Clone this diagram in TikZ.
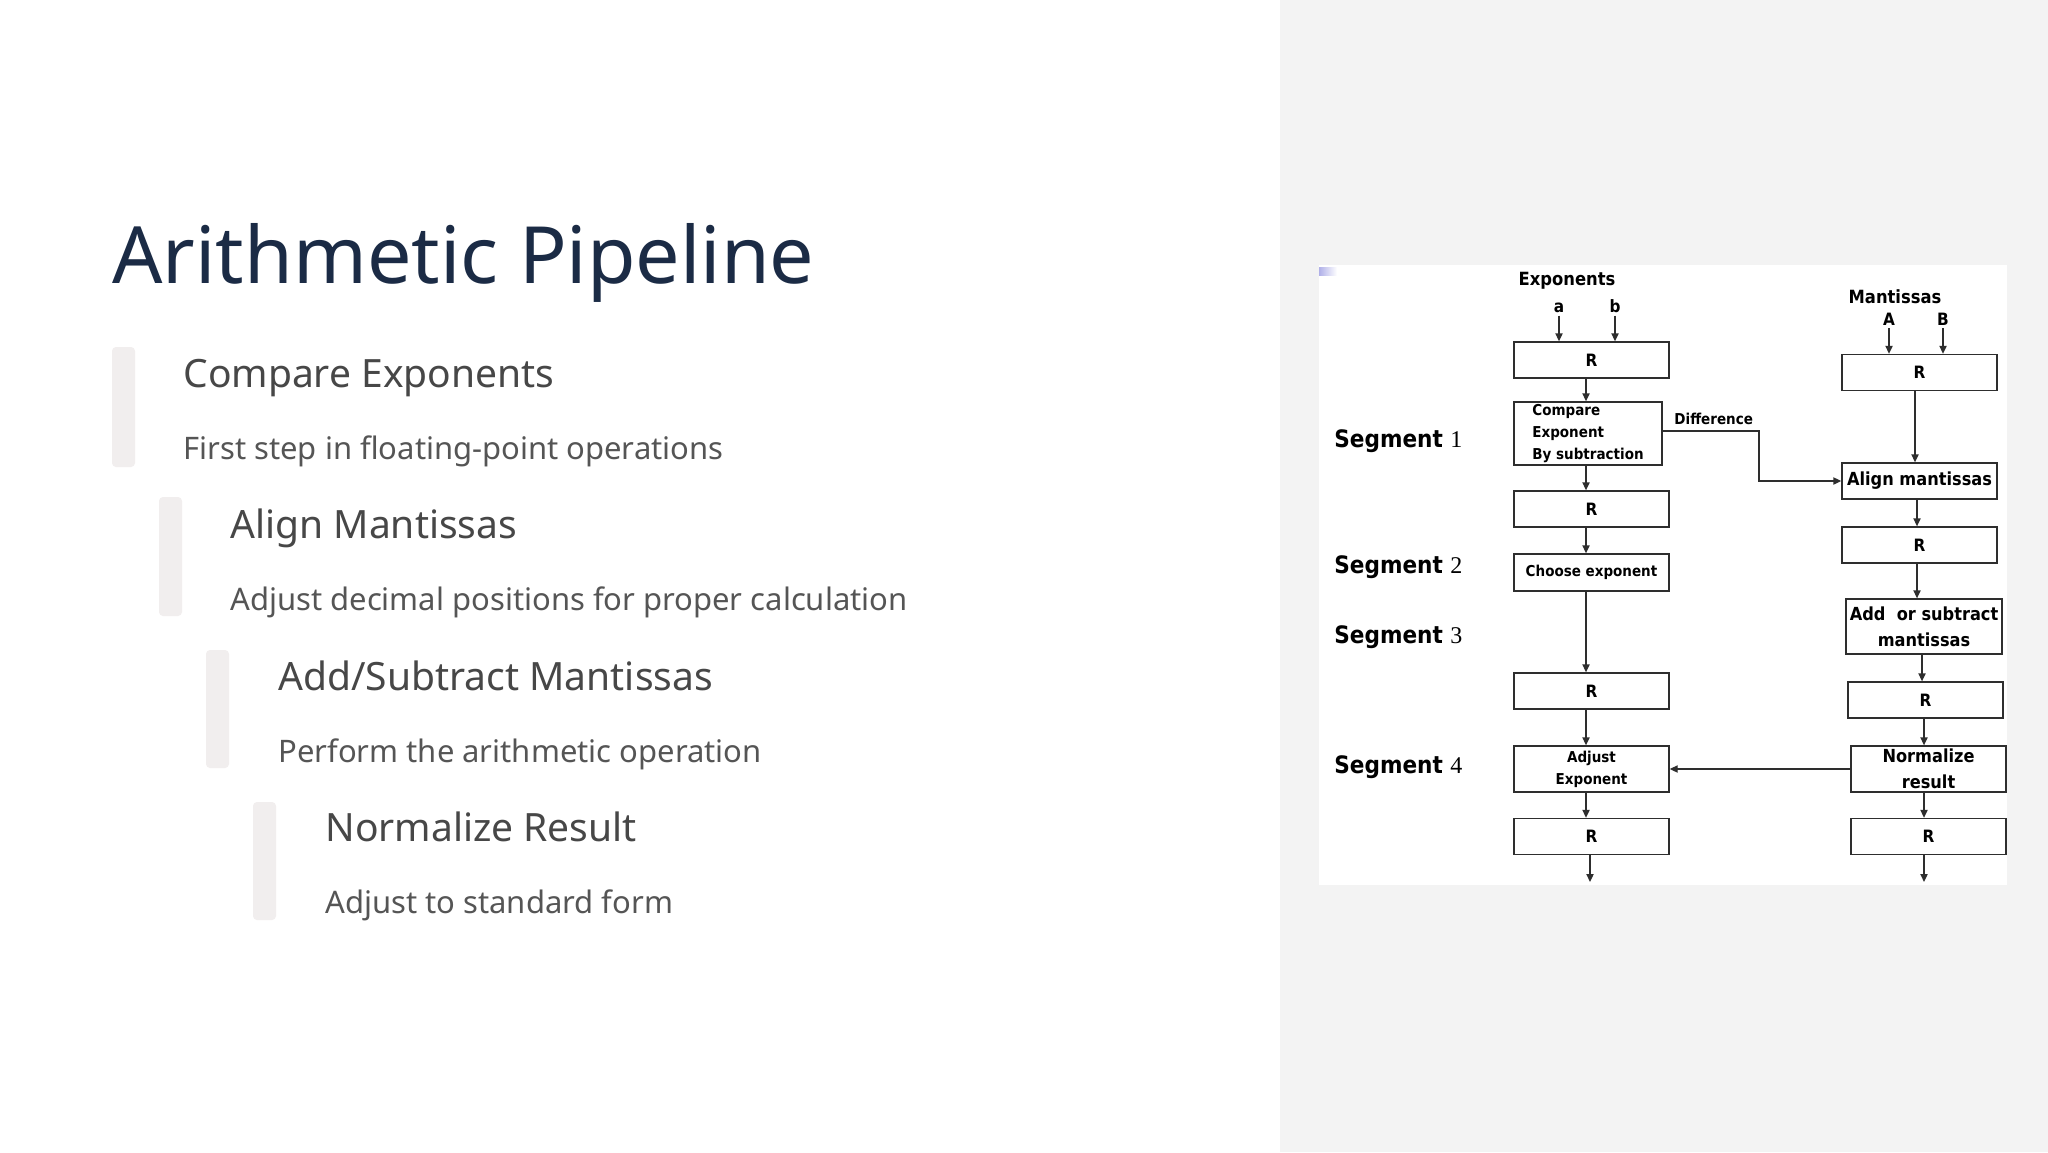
\documentclass[tikz,border=0pt]{standalone}
\usepackage{fontspec}
\setmainfont{Noto Sans}
\newfontfamily\diagfont{DejaVu Sans}[FakeStretch=0.9]
\newfontfamily\digitfont{Liberation Serif}
\usetikzlibrary{arrows.meta}
\definecolor{titleblue}{HTML}{1B2B45}
\definecolor{headgray}{HTML}{474747}
\definecolor{subgray}{HTML}{555555}
\definecolor{barfill}{HTML}{F1EEEE}
\definecolor{panelgray}{HTML}{F3F3F3}
\definecolor{boxline}{HTML}{2E2E2E}
\begin{document}
\begin{tikzpicture}[x=0.5pt,y=0.5pt,yscale=-1,xscale=1,
    regbox/.style={draw=boxline,line width=0.7pt,inner sep=0pt,minimum width=77.5pt,minimum height=18pt,font=\diagfont\bfseries\fontsize{8.5}{10}\selectfont},
    opbox/.style={draw=boxline,line width=0.7pt,inner sep=0pt,minimum width=77.5pt,align=center,font=\diagfont\bfseries\fontsize{7.5}{11}\selectfont},
    opboxbig/.style={opbox,font=\diagfont\bfseries\fontsize{9}{13}\selectfont},
    inlbl/.style={anchor=base,inner sep=0pt,font=\diagfont\bfseries\fontsize{8.5}{10}\selectfont},
    seglbl/.style={anchor=base west,inner sep=0pt,font=\diagfont\bfseries\fontsize{12}{14}\selectfont},
    arr/.style={draw=boxline,line width=0.7pt,-{Triangle[length=4pt,width=3.6pt]}},
    headtxt/.style={anchor=base west,inner sep=0pt,text=headgray,font=\fontsize{19.5}{23}\selectfont},
    subtxt/.style={anchor=base west,inner sep=0pt,text=subgray,font=\fontsize{15.5}{18}\selectfont},
    bar/.style={fill=barfill,rounded corners=2pt}]
    \useasboundingbox (0,0) rectangle (2048,1152);
    % backgrounds
    \fill[white] (0,0) rectangle (1280,1152);
    \fill[panelgray] (1280,0) rectangle (2048,1152);
    \fill[white] (1319,265) rectangle (2007,885);
    \shade[left color={rgb,255:red,176;green,176;blue,232},right color=white] (1319,267) rectangle (1337,275);

    % title and steps
    \draw (112,283) node (ttl) [anchor=base west,inner sep=0pt,text=titleblue,font=\fontsize{39.5}{48}\selectfont] {Arithmetic Pipeline};
    \fill[bar] (112,347) rectangle (135,467);
    \draw (183,387) node (h1) [headtxt] {Compare Exponents};
    \draw (183,459) node (s1) [subtxt] {First step in floating-point operations};
    \fill[bar] (159,497) rectangle (182,616);
    \draw (230,538) node (h2) [headtxt] {Align Mantissas};
    \draw (230,610) node (s2) [subtxt] {Adjust decimal positions for proper calculation};
    \fill[bar] (206,650) rectangle (229,768);
    \draw (278,690) node (h3) [headtxt] {Add/Subtract Mantissas};
    \draw (278,762) node (s3) [subtxt] {Perform the arithmetic operation};
    \fill[bar] (253,802) rectangle (276,920);
    \draw (325,841) node (h4) [headtxt] {Normalize Result};
    \draw (325,913) node (s4) [subtxt] {Adjust to standard form};

    % segment labels
    \draw (1334,447) node (seg1) [seglbl] {Segment {\digitfont\mdseries 1}};
    \draw (1334,573) node (seg2) [seglbl] {Segment {\digitfont\mdseries 2}};
    \draw (1334,643) node (seg3) [seglbl] {Segment {\digitfont\mdseries 3}};
    \draw (1334,773) node (seg4) [seglbl] {Segment {\digitfont\mdseries 4}};

    % exponent column
    \draw (1567,285) node (expo) [inlbl,font=\diagfont\bfseries\fontsize{9.1}{10}\selectfont] {Exponents};
    \draw (1559,312) node (ea) [inlbl] {a};
    \draw (1615,312) node (eb) [inlbl] {b};
    \draw (1591.5,360) node (rA) [regbox] {R};
    \draw (1588,433.5) node (cmp) [opbox,align=left,minimum width=74pt,minimum height=31.5pt] {Compare\\Exponent\\By subtraction};
    \draw (1591.5,509) node (rB) [regbox] {R};
    \draw (1591.5,572.5) node (choose) [opbox,minimum height=18.5pt] {Choose exponent};
    \draw (1591.5,691) node (rC) [regbox] {R};
    \draw (1591.5,769) node (adj) [opbox,minimum height=23pt] {Adjust\\Exponent};
    \draw (1591.5,836.5) node (rD) [regbox] {R};
    \coordinate (xe) at (1586,0);
    \coordinate (outE) at (1590,882);

    % mantissa column
    \draw (1895,303) node (mant) [inlbl,font=\diagfont\bfseries\fontsize{9.1}{10}\selectfont] {Mantissas};
    \draw (1889,325) node (mA) [inlbl] {A};
    \draw (1943,325) node (mB) [inlbl] {B};
    \draw (1919.5,372.5) node (rM1) [regbox] {R};
    \draw (1919.5,481) node (align) [opboxbig,minimum height=18pt] {Align mantissas};
    \draw (1919.5,545) node (rM2) [regbox] {R};
    \draw (1924,626.5) node (addsub) [opboxbig,minimum width=78pt,minimum height=27.5pt] {Add~ or subtract\\mantissas};
    \draw (1925.5,700) node (rM3) [regbox] {R};
    \draw (1928.5,769) node (norm) [opboxbig,minimum height=23pt] {Normalize\\result};
    \draw (1928.5,836.5) node (rM4) [regbox] {R};
    \coordinate (xm1) at (1915,0);
    \coordinate (xm2) at (1917,0);
    \coordinate (xm3) at (1922,0);
    \coordinate (outM) at (1924,882);

    % difference
    \draw (1674,424) node (diff) [anchor=base west,inner sep=0pt,font=\diagfont\bfseries\fontsize{7.5}{8}\selectfont] {Difference};
    \coordinate (dturn) at (1759,481);

    % connectors
    \draw[arr,shorten <=1.5pt] (ea.south) -- (ea.south |- rA.north);
    \draw[arr,shorten <=1.5pt] (eb.south) -- (eb.south |- rA.north);
    \draw[arr] (rA.south -| xe) -- (cmp.north -| xe);
    \draw[arr] (cmp.south -| xe) -- (rB.north -| xe);
    \draw[arr] (rB.south -| xe) -- (choose.north -| xe);
    \draw[arr] (choose.south -| xe) -- (rC.north -| xe);
    \draw[arr] (rC.south -| xe) -- (adj.north -| xe);
    \draw[arr] (adj.south -| xe) -- (rD.north -| xe);
    \draw[arr] (rD.south -| outE) -- (outE);
    \draw[arr,shorten <=1.5pt] (mA.south) -- (mA.south |- rM1.north);
    \draw[arr,shorten <=1.5pt] (mB.south) -- (mB.south |- rM1.north);
    \draw[arr] (rM1.south -| xm1) -- (align.north -| xm1);
    \draw[arr] (align.south -| xm2) -- (rM2.north -| xm2);
    \draw[arr] (rM2.south -| xm2) -- (addsub.north -| xm2);
    \draw[arr] (addsub.south -| xm3) -- (rM3.north -| xm3);
    \draw[arr] (rM3.south -| outM) -- (norm.north -| outM);
    \draw[arr] (norm.south -| outM) -- (rM4.north -| outM);
    \draw[arr] (rM4.south -| outM) -- (outM);
    \draw[arr] ([yshift=-1.2pt]cmp.east) -| (dturn) -- (align.west);
    \draw[arr] (norm.west) -- (adj.east);
\end{tikzpicture}
\end{document}
